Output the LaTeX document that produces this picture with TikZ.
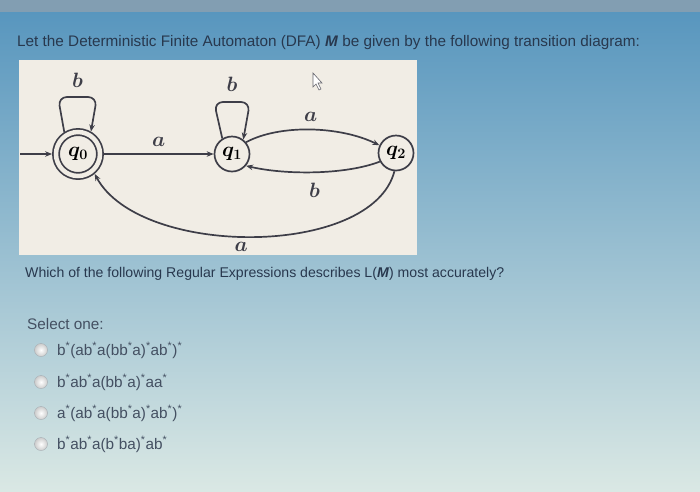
\documentclass[tikz,border=0pt]{standalone}
\usepackage{fontspec}
\setmainfont{Liberation Sans}
\usepackage{amsmath}
\usepackage{tikz}
\usetikzlibrary{arrows.meta}
\definecolor{mylight}{gray}{.80}
\definecolor{mytopband}{RGB}{130,158,178}
\definecolor{mybluetop}{RGB}{88,150,190}
\definecolor{mybluemid}{RGB}{160,210,228}
\definecolor{mybluelow}{RGB}{218,232,228}
\definecolor{mycream}{RGB}{241,237,229}
\definecolor{myink}{RGB}{62,62,72}
\definecolor{mytext}{RGB}{40,56,78}
\definecolor{myoption}{RGB}{68,80,98}
\definecolor{myradio}{RGB}{165,172,178}
\newcommand{\kstar}{\textsuperscript{*}}
\newcommand{\labelfont}{\fontsize{20}{20}\selectfont\boldmath}
\tikzset{
    common/.style={inner sep=0pt, anchor=base west},
    heading/.style={common, text=mytext, font=\fontsize{15.3}{18}\selectfont},
    question/.style={common, text=mytext, font=\fontsize{14.1}{17}\selectfont},
    option/.style={common, text=myoption, font=\fontsize{15.3}{18}\selectfont},
    radio/.style={draw=myradio, circle, minimum size=13pt, inner sep=0pt, inner color=white, outer color=mylight},
    state/.style={draw=myink, circle, line width=1.7pt, minimum size=35pt, inner sep=0pt, font=\labelfont},
    accepting/.style={state, double=mycream, double distance=4.5pt, minimum size=44pt, outer sep=3.9pt},
    edge/.style={->, draw=myink, line width=1.7pt},
    loopedge/.style={edge, rounded corners=9pt},
    sym/.style={font=\labelfont, text=myink, inner sep=0pt}
}

\begin{document}
\begin{tikzpicture}[x=1pt, y=-1pt, >={Stealth[length=7pt, width=5.5pt]}]
        \useasboundingbox (0,0) rectangle (700,491);
        \shade[top color=mybluetop, middle color=mybluemid, bottom color=mybluelow] (0,12) rectangle (700,491);
        \fill[mytopband] (0,0) rectangle (700,12);
        \fill[mycream] (19,60) rectangle (417,255);

        \node[heading] (title) at (17,46) {Let the Deterministic Finite Automaton (DFA) \textbf{\textit{M}} be given by the following transition diagram:};

        \node[accepting] (q0) at (78,154) {$q_0$};
        \node[state] (q1) at (232,154) {$q_1$};
        \node[state] (q2) at (396,153) {$q_2$};
        \coordinate (start) at (20,154);

        \draw[edge] (start) -- (q0);
        \draw[loopedge] (q0.122) -- (58,97) -- node[sym, above=9pt] {$b$} (97,97) -- (q0.60);
        \draw[loopedge] (q1.122) -- (214,102) -- node[sym, above=10pt] {$b$} (250,102) -- (q1.52);
        \draw[edge] (q0) -- node[sym, above=7pt] {$a$} (q1);
        \draw[edge] (q1.40) .. controls (280,124) and (340,126) .. node[sym, above=7pt] {$a$} (q2.155);
        \draw[edge] (q2.-152) .. controls (345,175) and (285,175) .. node[sym, below=10pt] {$b$} (q1.-40);
        \draw[edge] (q2.-95) .. controls (372,258) and (140,258) .. node[sym, below=5pt, pos=.53] {$a$} (q0.-50);

        \draw[myink!80, fill=white, line width=.6pt] (313,73) -- (313,87) -- (316,84) -- (319,90) -- (321,89) -- (318,83) -- (322,83) -- cycle;

        \node[question] (ask) at (25,277) {Which of the following Regular Expressions describes L(\textbf{\textit{M}}) most accurately?};
        \node[option] (select) at (27,329) {Select one:};

        \path (41,350) node[radio] (radio1) {}
            ++(16,5) node[option] (option1) {b\kstar(ab\kstar a(bb\kstar a)\kstar ab\kstar)\kstar};
        \path (41,382) node[radio] (radio2) {}
            ++(16,5) node[option] (option2) {b\kstar ab\kstar a(bb\kstar a)\kstar aa\kstar};
        \path (41,413) node[radio] (radio3) {}
            ++(16,5) node[option] (option3) {a\kstar(ab\kstar a(bb\kstar a)\kstar ab\kstar)\kstar};
        \path (41,444) node[radio] (radio4) {}
            ++(16,5) node[option] (option4) {b\kstar ab\kstar a(b\kstar ba)\kstar ab\kstar};
    \end{tikzpicture}
\end{document}
